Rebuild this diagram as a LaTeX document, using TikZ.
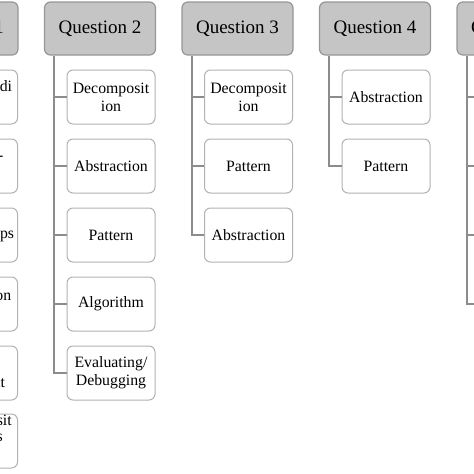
\documentclass[tikz,border=0pt]{standalone}
\usepackage{fontspec}
\setmainfont{Liberation Serif}
\usepackage{tikz}
\usetikzlibrary{calc}
\definecolor{headgray}{RGB}{197, 197, 197}
\definecolor{headedge}{RGB}{150, 150, 150}
\definecolor{leafedge}{RGB}{178, 178, 178}
\definecolor{linkgray}{RGB}{140, 140, 140}

\begin{document}
\begin{tikzpicture}[x=1pt, y=-1pt,
    qhead/.style={draw=headedge, fill=headgray, line width=1.2pt, rounded corners=6pt,
                  minimum width=111pt, minimum height=53pt, inner sep=2pt,
                  font=\fontsize{19}{22}\selectfont},
    qleaf/.style={draw=leafedge, fill=white, line width=1pt, rounded corners=6pt,
                  minimum width=88pt, minimum height=54pt, inner sep=2pt, align=center,
                  font=\fontsize{15.8}{18}\selectfont},
    link/.style={draw=linkgray, line width=2pt}]
    \useasboundingbox (0,0) rectangle (474,474);
    \clip (0,0) rectangle (474,474);

    % question headers
    \node[qhead] (q1) at (-37.5, 28.5) {Question 1};
    \node[qhead] (q2) at (100.0, 28.5) {Question 2};
    \node[qhead] (q3) at (237.5, 28.5) {Question 3};
    \node[qhead] (q4) at (375.0, 28.5) {Question 4};
    \node[qhead] (q5) at (512.5, 28.5) {Question 5};

    % question 1
    \node[qleaf] (q1c1) at (-26.5,  97) {Understandi\\ng};
    \node[qleaf] (q1c2) at (-26.5, 166) {Program-\\ming};
    \node[qleaf] (q1c3) at (-26.5, 235) {Using Loops};
    \node[qleaf] (q1c4) at (-26.5, 304) {Information\\Flow};
    \node[qleaf] (q1c5) at (-26.5, 373) {If-Else\\Statement};
    \node[qleaf] (q1c6) at (-26.5, 441) {};
    \node[anchor=north, align=center, inner sep=1pt,
          font=\fontsize{15.8}{16}\selectfont] (q1c6txt) at (q1c6.north) {Decomposit\\ion Steps};

    % question 2
    \node[qleaf] (q2c1) at (111.0,  97) {Decomposit\\ion};
    \node[qleaf] (q2c2) at (111.0, 166) {Abstraction};
    \node[qleaf] (q2c3) at (111.0, 235) {Pattern};
    \node[qleaf] (q2c4) at (111.0, 304) {Algorithm};
    \node[qleaf] (q2c5) at (111.0, 373) {Evaluating/\\Debugging};

    % question 3
    \node[qleaf] (q3c1) at (248.5,  97) {Decomposit\\ion};
    \node[qleaf] (q3c2) at (248.5, 166) {Pattern};
    \node[qleaf] (q3c3) at (248.5, 235) {Abstraction};

    % question 4
    \node[qleaf] (q4c1) at (386.0,  97) {Abstraction};
    \node[qleaf] (q4c2) at (386.0, 166) {Pattern};

    % question 5 (boxes lie past the right edge)
    \coordinate (q5c1) at (479.5,  97);
    \coordinate (q5c2) at (479.5, 166);
    \coordinate (q5c3) at (479.5, 235);
    \coordinate (q5c4) at (479.5, 304);

    % trunks
    \coordinate (q1t) at ([xshift=10.5pt]q1.south west);
    \coordinate (q2t) at ([xshift=10.5pt]q2.south west);
    \coordinate (q3t) at ([xshift=10.5pt]q3.south west);
    \coordinate (q4t) at ([xshift=10.5pt]q4.south west);
    \coordinate (q5t) at ([xshift=10.5pt]q5.south west);
    \draw[link] (q1t) |- (q1c6.west);
    \draw[link] (q2t) |- (q2c5.west);
    \draw[link] (q3t) |- (q3c3.west);
    \draw[link] (q4t) |- (q4c2.west);
    \draw[link] (q5t) |- (q5c4);

    % branches
    \foreach \i in {1,...,5} \draw[link] (q1c\i.west) -- (q1c\i.west -| q1t);
    \foreach \i in {1,...,4} \draw[link] (q2c\i.west) -- (q2c\i.west -| q2t);
    \foreach \i in {1,2}     \draw[link] (q3c\i.west) -- (q3c\i.west -| q3t);
    \draw[link] (q4c1.west) -- (q4c1.west -| q4t);
    \foreach \i in {1,2,3}   \draw[link] (q5c\i) -- (q5c\i -| q5t);
\end{tikzpicture}
\end{document}
